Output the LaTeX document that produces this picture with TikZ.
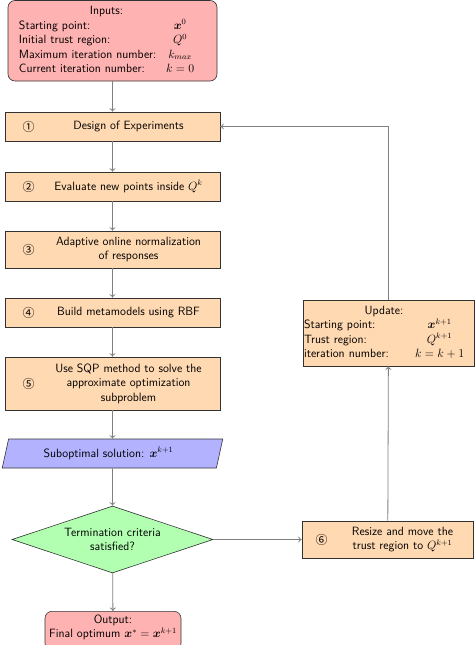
\documentclass[tikz,border=0pt]{standalone}
\usepackage{fontspec}
\usepackage{amsmath}
\usepackage{array}
\usetikzlibrary{arrows.meta,shapes.geometric}
\newfontfamily\circfont{Noto Sans CJK SC}
\newcommand{\bx}{\boldsymbol{x}}
\newcommand{\stepcont}[4]{\makebox[#1][l]{\hspace*{#2}\parbox[c]{#3}{\centering #4}}}
\begin{document}
\begin{tikzpicture}[x=1pt,y=-1pt,
  font=\fontsize{12}{14.4}\selectfont\sffamily,
  stepbox/.style={draw=black!80, line width=0.6pt, fill=orange!30, inner xsep=0pt, inner ysep=0pt},
  numlab/.style={anchor=center, inner sep=0pt, font=\circfont\fontsize{12}{13}\selectfont},
  iobox/.style={draw=black!80, line width=0.6pt, fill=red!30, rounded corners=7pt},
  arr/.style={draw=black!50, line width=0.8pt, -{To[length=3.5pt,width=6pt]}}]
\useasboundingbox (0,0) rectangle (474,645);

\node[iobox, text width=187pt, inner xsep=11pt, minimum height=80.5pt] (inp) at (112.5,40.75)
 {\noindent\begin{tabular}{@{}p{147pt}@{}c@{}}
  \multicolumn{2}{c}{Inputs:}\\
  Starting point: & $\bx^{0}$\\
  Initial trust region: & $Q^{0}$\\
  Maximum iteration number: & $k_{max}$\\
  Current iteration number: & $k=0$
 \end{tabular}};

\node[stepbox, minimum height=29pt, label={[numlab, xshift=24pt]west:①}] (b1) at (112.5,126.5)
 {\stepcont{215pt}{46pt}{155pt}{Design of Experiments}};
\node[stepbox, minimum height=29pt, label={[numlab, xshift=24pt]west:②}] (b2) at (112.5,186.5)
 {\stepcont{215pt}{46pt}{155pt}{Evaluate new points inside $Q^{k}$}};
\node[stepbox, minimum height=37pt, label={[numlab, xshift=24pt]west:③}] (b3) at (112.5,249.5)
 {\stepcont{215pt}{46pt}{155pt}{Adaptive online normalization\\of responses}};
\node[stepbox, minimum height=29pt, label={[numlab, xshift=24pt]west:④}] (b4) at (112.5,312.5)
 {\stepcont{215pt}{46pt}{155pt}{Build metamodels using RBF}};
\node[stepbox, minimum height=53pt, label={[numlab, xshift=24pt]west:⑤}] (b5) at (112.5,383.5)
 {\stepcont{215pt}{46pt}{155pt}{Use SQP method to solve the\\approximate optimization\\subproblem}};

\node[trapezium, trapezium left angle=71, trapezium right angle=109, trapezium stretches=true,
  minimum width=221pt, minimum height=29pt, inner sep=0pt, draw=black!80, line width=0.6pt, fill=blue!30] (sub) at (112.5,453.5)
 {Suboptimal solution: $\bx^{k+1}$\hspace*{8pt}};

\node[diamond, aspect=3, minimum width=201pt, minimum height=67pt, inner sep=0pt, align=center,
  draw=black!80, line width=0.6pt, fill=green!30] (dec) at (112.5,539.5)
 {Termination criteria\\satisfied?};

\node[iobox, anchor=north, align=center, minimum width=136pt, inner ysep=3.5pt] (out) at (113,611)
 {Output:\\Final optimum $\bx^{*}=\bx^{k+1}$\rule[-9pt]{0pt}{9pt}};

\node[stepbox, minimum height=37pt, label={[numlab, xshift=20pt]west:⑥}] (b6) at (387.75,539.5)
 {\stepcont{171.5pt}{45.5pt}{110pt}{Resize and move the\\trust region to $Q^{k+1}$}};

\node[stepbox, text width=169pt, inner xsep=1pt, minimum height=66pt] (upd) at (388.5,333)
 {\noindent\begin{tabular}{@{}p{111pt}@{}c@{}}
  \multicolumn{2}{c}{Update:}\\
  Starting point: & $\bx^{k+1}$\\
  Trust region: & $Q^{k+1}$\\
  iteration number: & $k=k+1$
 \end{tabular}};

\draw[arr] (inp) -- (b1);
\draw[arr] (b1) -- (b2);
\draw[arr] (b2) -- (b3);
\draw[arr] (b3) -- (b4);
\draw[arr] (b4) -- (b5);
\draw[arr] (b5) -- (sub);
\draw[arr] (sub) -- (dec);
\draw[arr] (dec) -- (out);
\draw[arr] (dec) -- (b6);
\draw[arr] (b6) -- (upd);
\draw[arr] (upd.north) |- (b1.east);
\end{tikzpicture}
\end{document}
